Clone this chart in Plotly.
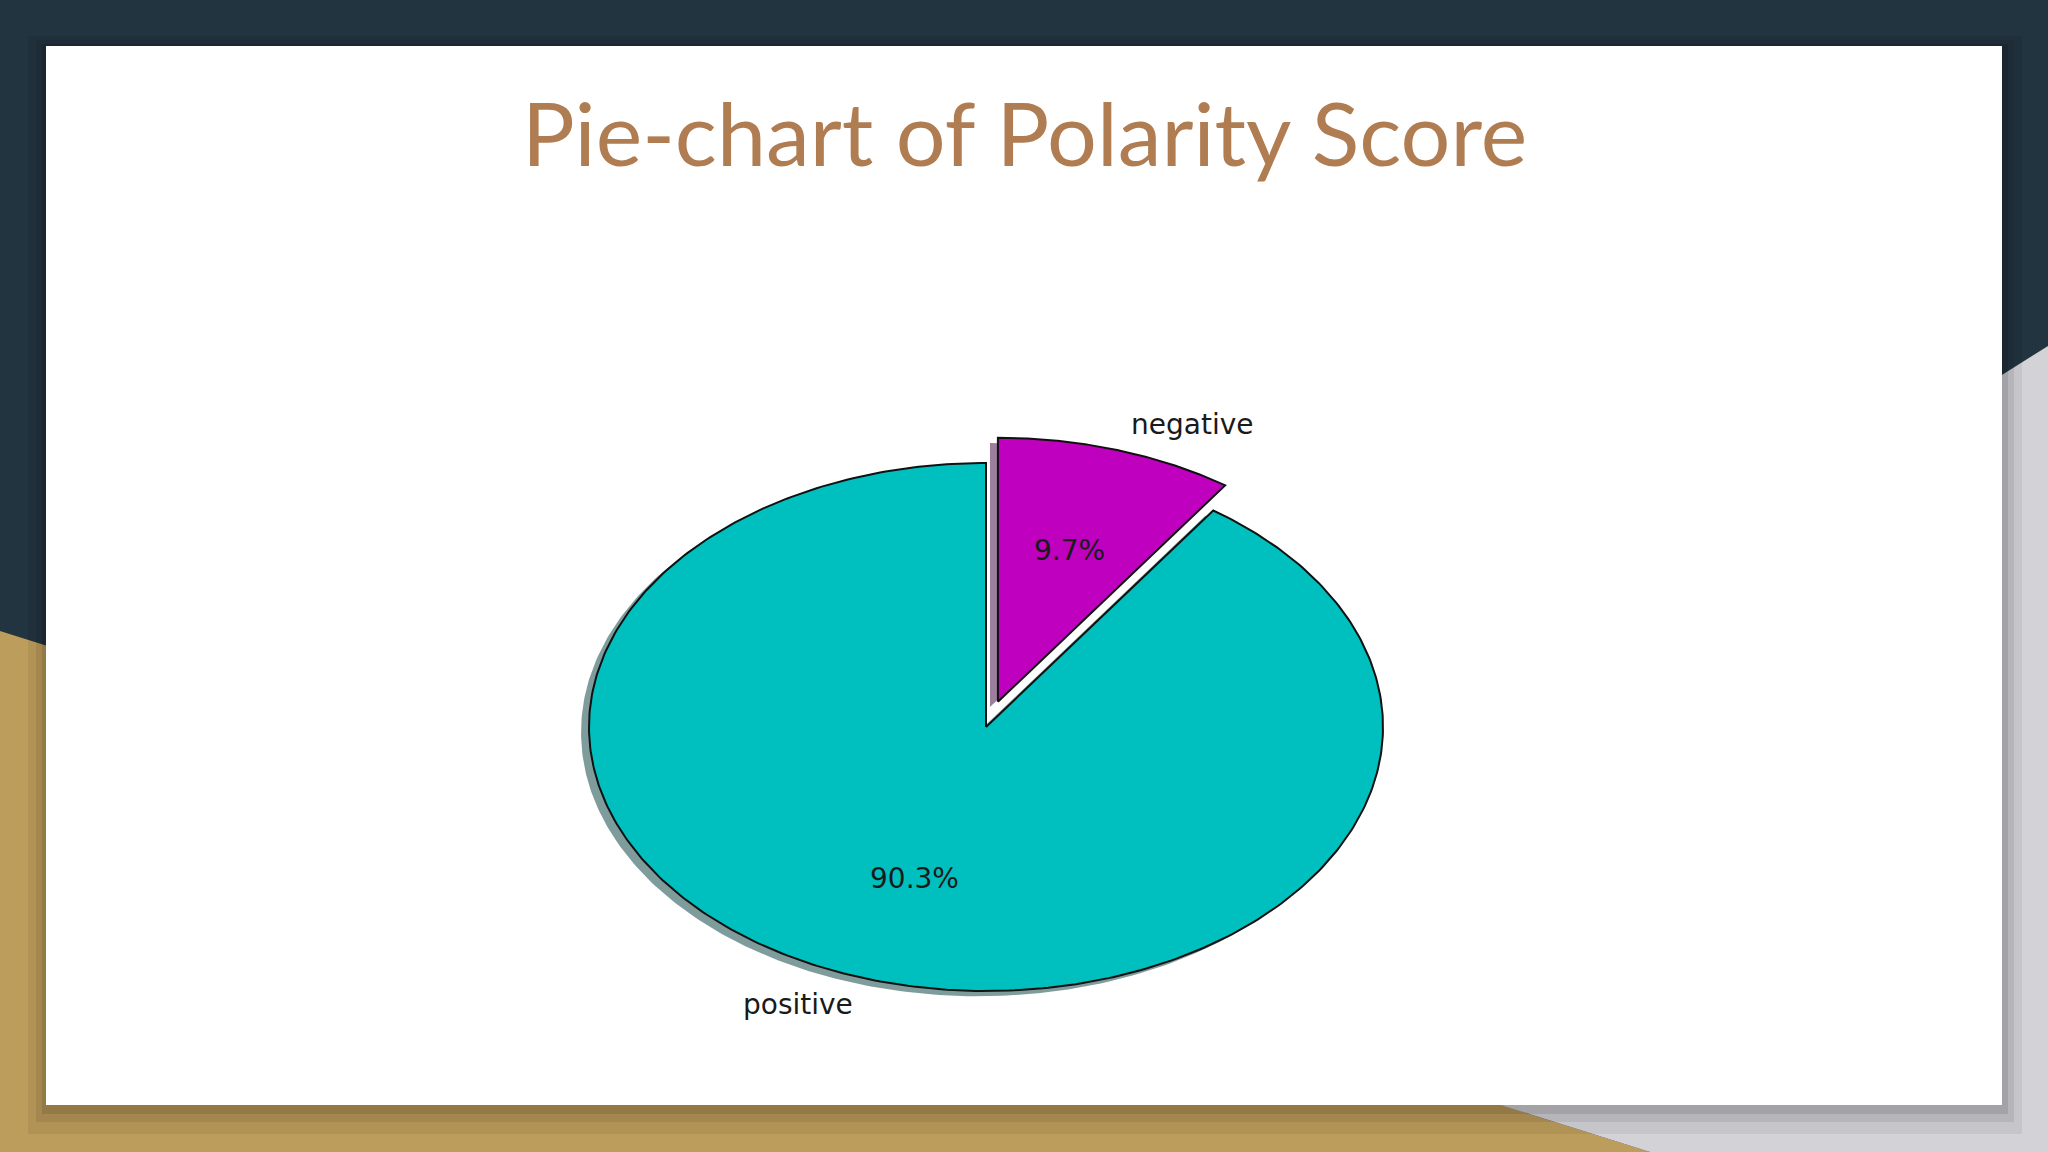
import numpy as np
import plotly.graph_objects as go

# ---- data ----
labels = ["positive", "negative"]
values = [90.3, 9.7]
colors = ["#00bfbf", "#bf00bf"]
explode = [0.0, 0.1]
title_text = "Pie-chart of Polarity Score"

# ---- geometry / style ----
W, H = 2048, 1152
CX, CY = 986, 727          # pie centre (px)
RX, RY = 397, 264          # pie radii (stretched axes, like the original)
START_ANGLE = 90
SHADOW_OFF = 0.02
PCT_DIST = 0.6
LABEL_DIST = 1.1
NAVY = "#22343f"
GOLD = "#bd9d5c"
GREY = "#d3d2d6"


def hex_rgb(h):
    h = h.lstrip("#")
    return tuple(int(h[i:i + 2], 16) for i in (0, 2, 4))


fig = go.Figure()

total = float(sum(values))
theta = START_ANGLE
geo = []
for lab, val, col, ex in zip(labels, values, colors, explode):
    sweep = 360.0 * val / total
    a0, a1 = theta, theta + sweep
    mid = np.radians((a0 + a1) / 2)
    ox = ex * RX * np.cos(mid)
    oy = -ex * RY * np.sin(mid)
    angs = np.radians(np.linspace(a0, a1, 400))
    cx, cy = CX + ox, CY + oy
    xs = np.concatenate([[cx], cx + RX * np.cos(angs), [cx]])
    ys = np.concatenate([[cy], cy - RY * np.sin(angs), [cy]])
    geo.append((lab, val, col, xs, ys, cx, cy, mid))
    theta = a1

# shadows first (behind every wedge)
for lab, val, col, xs, ys, cx, cy, mid in geo:
    r, g, b = hex_rgb(col)
    fig.add_trace(go.Scatter(
        x=xs - SHADOW_OFF * RX, y=ys + SHADOW_OFF * RY,
        mode="lines", fill="toself",
        fillcolor=f"rgba({int(0.3*r)},{int(0.3*g)},{int(0.3*b)},0.5)",
        line=dict(width=0), hoverinfo="skip", showlegend=False))

for lab, val, col, xs, ys, cx, cy, mid in geo:
    fig.add_trace(go.Scatter(
        x=xs, y=ys, mode="lines", fill="toself", fillcolor=col,
        line=dict(color="#111111", width=2), name=lab,
        hoverinfo="name", showlegend=False))
    # percentage text
    fig.add_annotation(
        x=cx + PCT_DIST * RX * np.cos(mid), y=cy - PCT_DIST * RY * np.sin(mid),
        text=f"{100*val/total:.1f}%", showarrow=False,
        xanchor="center", yanchor="middle",
        font=dict(family="DejaVu Sans", size=28, color="#1a1a1a"))
    # category label
    lx = cx + LABEL_DIST * RX * np.cos(mid)
    ly = cy - LABEL_DIST * RY * np.sin(mid)
    fig.add_annotation(
        x=lx, y=ly, text=lab, showarrow=False,
        xanchor="left" if np.cos(mid) > 0 else "right", yanchor="middle",
        font=dict(family="DejaVu Sans", size=28, color="#1a1a1a"))

# title
fig.add_annotation(
    x=W / 2, y=132, text=title_text, showarrow=False,
    xanchor="center", yanchor="middle",
    font=dict(family="Lato", size=88, color="#b07d52"))

shapes = [
    # gold triangle bottom-left
    dict(type="path", path=f"M 0,631 L 1650,{H} L 0,{H} Z",
         fillcolor=GOLD, line=dict(width=0)),
    # grey region bottom-right
    dict(type="path", path=f"M 1062,967 L {W},346 L {W},{H} L 1650,{H} Z",
         fillcolor=GREY, line=dict(width=0)),
    # panel shadow
    dict(type="rect", x0=28, y0=36, x1=2022, y1=1134,
         fillcolor="rgba(0,0,0,0.06)", line=dict(width=0)),
    dict(type="rect", x0=36, y0=40, x1=2014, y1=1122,
         fillcolor="rgba(0,0,0,0.08)", line=dict(width=0)),
    dict(type="rect", x0=42, y0=44, x1=2008, y1=1114,
         fillcolor="rgba(0,0,0,0.10)", line=dict(width=0)),
    # white panel
    dict(type="rect", x0=46, y0=46, x1=2002, y1=1105,
         fillcolor="#ffffff", line=dict(width=0)),
]
for s in shapes:
    s.update(xref="x", yref="y", layer="below")

fig.update_layout(
    width=W, height=H,
    margin=dict(l=0, r=0, t=0, b=0),
    paper_bgcolor=NAVY, plot_bgcolor="rgba(0,0,0,0)",
    shapes=shapes,
    xaxis=dict(range=[0, W], visible=False, fixedrange=True),
    yaxis=dict(range=[H, 0], visible=False, fixedrange=True),
    showlegend=False,
)

fig.write_html(
    "out.html",
    config={"displayModeBar": False},
    post_script="document.body.style.margin='0';document.body.style.overflow='hidden';",
)
